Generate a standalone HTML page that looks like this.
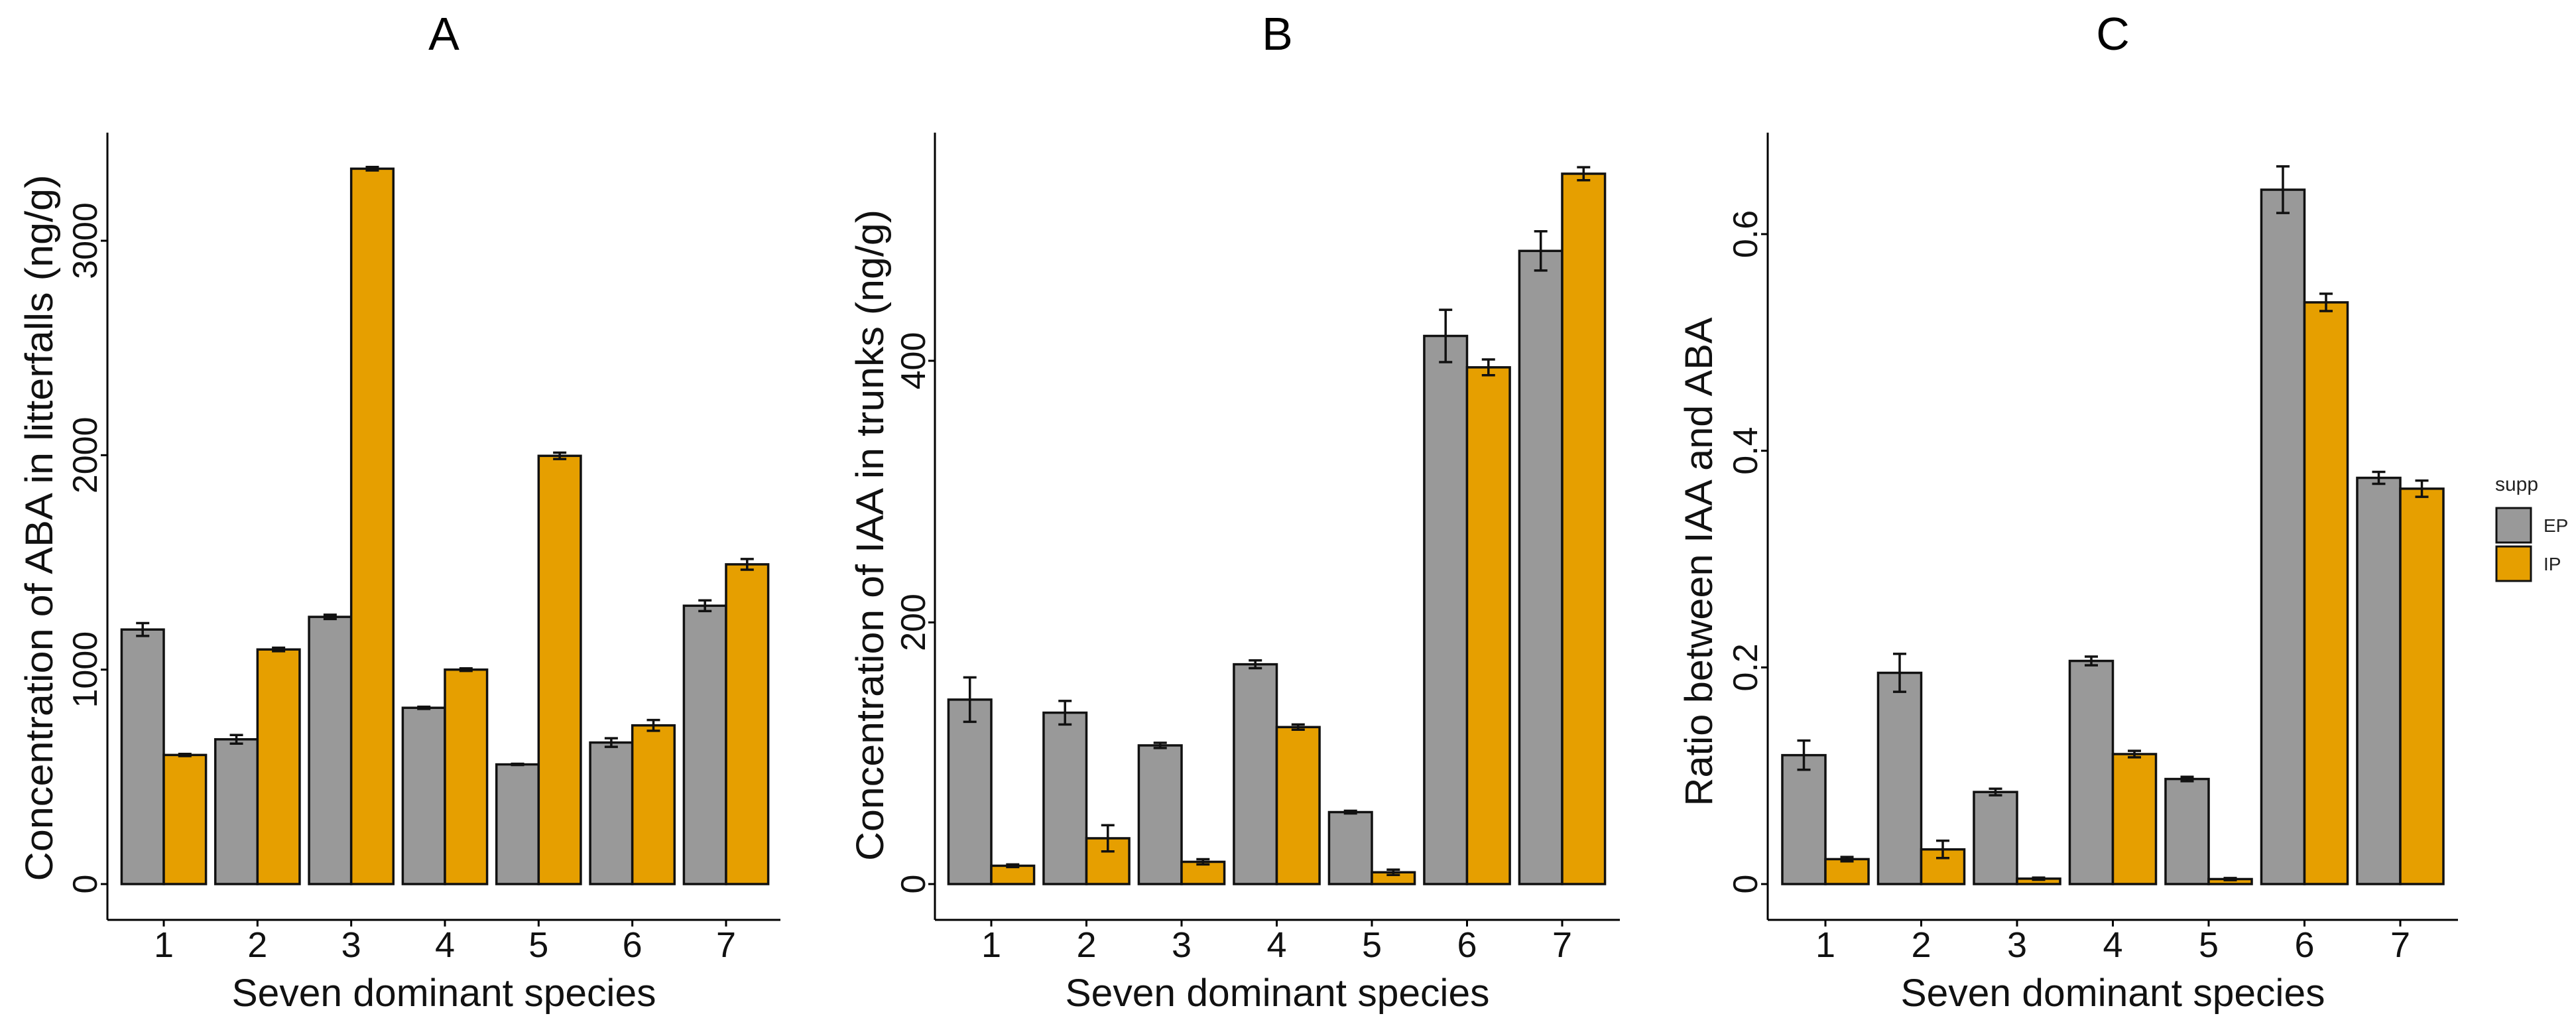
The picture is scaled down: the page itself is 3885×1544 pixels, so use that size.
<!DOCTYPE html>
<html><head><meta charset="utf-8">
<style>
html,body{margin:0;padding:0;background:#fff;}
svg{display:block;font-family:"Liberation Sans",sans-serif;}
</style></head>
<body>
<svg id="chart" width="3885" height="1544" viewBox="0 0 3885 1544" xmlns="http://www.w3.org/2000/svg"></svg>
<script>
const categories = ["1","2","3","4","5","6","7"];
const aEP = [1187, 675, 1246, 822, 558, 660, 1298];
const aIP = [602, 1094, 3336, 1000, 1997, 740, 1491];
const aEPerr = [30, 20, 10, 5, 3, 20, 25];
const aIPerr = [5, 8, 8, 6, 15, 25, 25];
const aTicks = [0, 1000, 2000, 3000];
const aTickLabels = ["0", "1000", "2000", "3000"];

const bEP = [141, 131, 106, 168, 55, 419, 484];
const bIP = [14, 35, 17, 120, 9, 395, 543];
const bEPerr = [17, 9, 2, 3, 1, 20, 15];
const bIPerr = [1, 10, 2, 2, 2, 6, 5];
const bTicks = [0, 200, 400];
const bTickLabels = ["0", "200", "400"];

const cEP = [0.119, 0.195, 0.085, 0.206, 0.097, 0.641, 0.375];
const cIP = [0.023, 0.032, 0.005, 0.120, 0.0046, 0.537, 0.365];
const cEPerr = [0.0135, 0.0175, 0.003, 0.004, 0.002, 0.0215, 0.0055];
const cIPerr = [0.002, 0.008, 0.001, 0.003, 0.001, 0.008, 0.0075];
const cTicks = [0, 0.2, 0.4, 0.6];
const cTickLabels = ["0", "0.2", "0.4", "0.6"];

const NS = "http://www.w3.org/2000/svg";
const svg = document.getElementById("chart");
function mk(tag, attrs, parent) {
  const e = document.createElementNS(NS, tag);
  for (const k in attrs) e.setAttribute(k, attrs[k]);
  (parent || svg).appendChild(e);
  return e;
}

const panels = [
  {key:"a", title:"A", ytitle:"Concentration of ABA in litterfalls (ng/g)", ax:162, right:1177, c1:247, c7:1095, y0:1333, yRef:3000, yRefPx:363, ep:aEP, ip:aIP, epe:aEPerr, ipe:aIPerr, ticks:aTicks, tl:aTickLabels, tlOff:34, ytOff:104, ytLen:1065, ytMid:796},
  {key:"b", title:"B", ytitle:"Concentration of IAA in trunks (ng/g)", ax:1410, right:2443, c1:1495, c7:2356, y0:1333, yRef:400, yRefPx:544, ep:bEP, ip:bIP, epe:bEPerr, ipe:bIPerr, ticks:bTicks, tl:bTickLabels, tlOff:33, ytOff:99, ytLen:982, ytMid:807},
  {key:"c", title:"C", ytitle:"Ratio between IAA and ABA", ax:2666, right:3707, c1:2753, c7:3620, y0:1333, yRef:0.6, yRefPx:353, ep:cEP, ip:cIP, epe:cEPerr, ipe:cIPerr, ticks:cTicks, tl:cTickLabels, tlOff:34, ytOff:105, ytLen:737, ytMid:847}
];

panels.forEach(p => {
  const g = mk("g", {});
  
  
  const yScale = v => p.y0 - v * (p.y0 - p.yRefPx) / p.yRef;
  const step = (p.c7 - p.c1) / 6;
  const xScale = i => p.c1 + i * step;
  const bw = step * 0.45;

  const t = mk("text", {x:(p.ax + p.right) / 2, y:75, "font-size":70, "text-anchor":"middle", fill:"#000"}, g);
  t.textContent = p.title;
  
  

  categories.forEach((c, i) => {
    const cx = xScale(i);
    [[p.ep[i], p.epe[i], "#999999", cx - bw, "ep"], [p.ip[i], p.ipe[i], "#E69F00", cx, "ip"]].forEach(([v, e, col, x, s]) => {
      const r = mk("rect", {x:x, y:yScale(v), width:bw, height:yScale(0) - yScale(v), fill:col, stroke:"#111", "stroke-width":3.5}, g);
      
      
      const mx = x + bw / 2;
      const eb = mk("path", {d:`M${mx-10},${yScale(v+e)}H${mx+10}M${mx},${yScale(v+e)}V${yScale(v-e)}M${mx-10},${yScale(v-e)}H${mx+10}`, stroke:"#111", "stroke-width":3.5, fill:"none"}, g);
      
      
    });
  });

  const ya = mk("line", {x1:p.ax, y1:200, x2:p.ax, y2:1387, stroke:"#000", "stroke-width":3}, g);
  
  
  const xa = mk("line", {x1:p.ax, y1:1387, x2:p.right, y2:1387, stroke:"#000", "stroke-width":3}, g);
  
  

  p.ticks.forEach((tv, i) => {
    const y = yScale(tv);
    mk("line", {x1:p.ax - 10, y1:y, x2:p.ax, y2:y, stroke:"#000", "stroke-width":3}, g);
    const lbl = mk("text", {x:0, y:0, "font-size":52, "text-anchor":"middle", fill:"#111", transform:`translate(${p.ax - p.tlOff + 18},${y}) rotate(-90)`}, g);
    lbl.textContent = p.tl[i];
    
    
  });
  categories.forEach((c, i) => {
    const x = xScale(i);
    mk("line", {x1:x, y1:1387, x2:x, y2:1397, stroke:"#000", "stroke-width":3}, g);
    const lbl = mk("text", {x:x, y:1443, "font-size":54, "text-anchor":"middle", fill:"#111"}, g);
    lbl.textContent = c;
    
    
  });

  const xt = mk("text", {x:(p.ax + p.right) / 2, y:1517, "font-size":58, "text-anchor":"middle", fill:"#111", textLength:640, lengthAdjust:"spacingAndGlyphs"}, g);
  xt.textContent = "Seven dominant species";
  
  

  const ytx = p.ax - p.ytOff + 21;
  const yt = mk("text", {x:0, y:0, "font-size":58, "text-anchor":"middle", fill:"#111", textLength:p.ytLen, lengthAdjust:"spacingAndGlyphs", transform:`translate(${ytx},${p.ytMid}) rotate(-90)`}, g);
  yt.textContent = p.ytitle;
  
  
});

const lg = mk("g", {});


const lt = mk("text", {x:3763, y:740, "font-size":30, fill:"#222"}, lg);
lt.textContent = "supp";


const k1 = mk("rect", {x:3765, y:766, width:52, height:52, fill:"#999999", stroke:"#111", "stroke-width":3}, lg);


const k2 = mk("rect", {x:3765, y:824, width:52, height:52, fill:"#E69F00", stroke:"#111", "stroke-width":3}, lg);


const l1 = mk("text", {x:3836, y:802, "font-size":28, fill:"#222"}, lg);
l1.textContent = "EP";


const l2 = mk("text", {x:3836, y:860, "font-size":28, fill:"#222"}, lg);
l2.textContent = "IP";


</script>
</body></html>
